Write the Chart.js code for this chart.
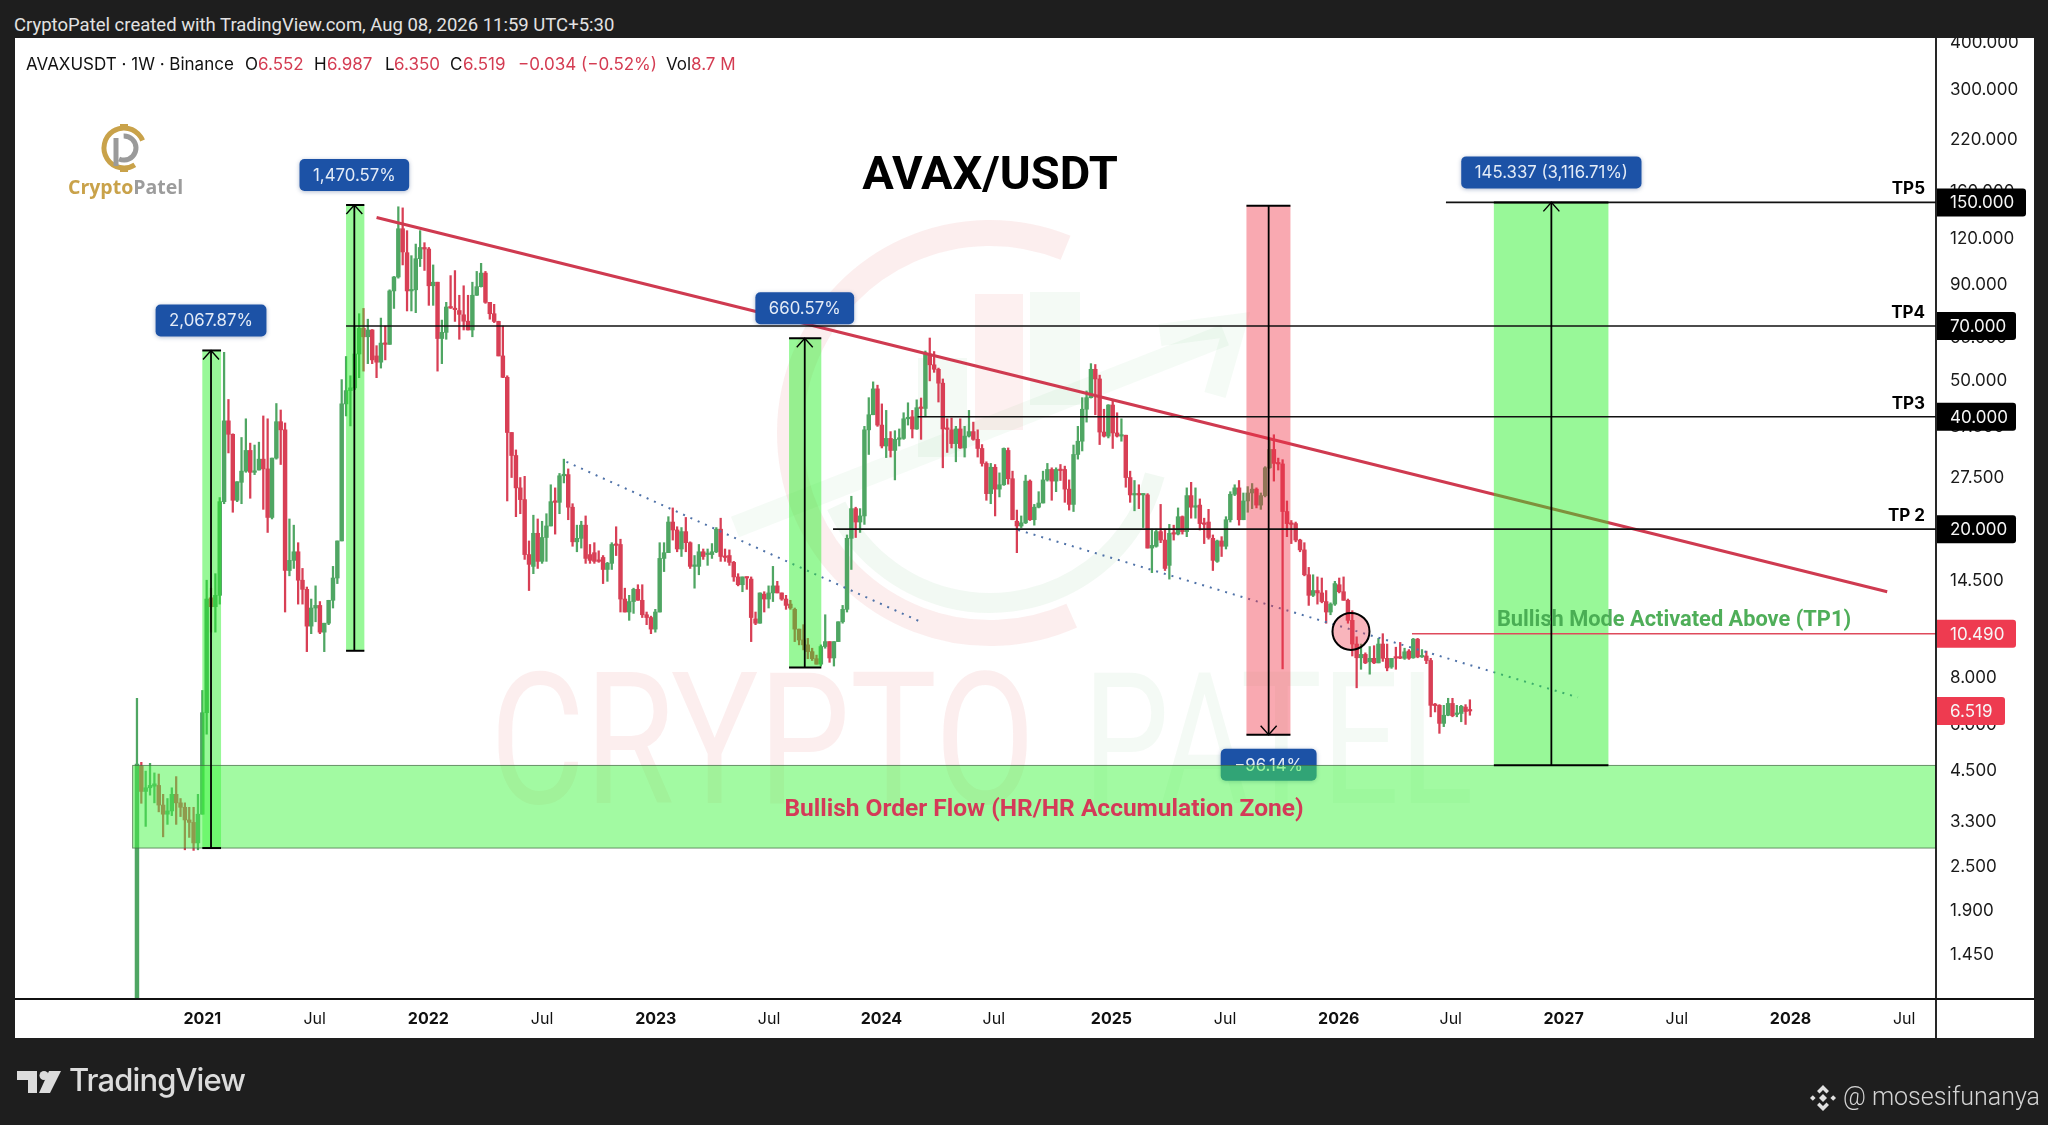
<!DOCTYPE html>
<html>
<head>
<meta charset="utf-8">
<title>AVAX/USDT</title>
<script src="https://cdn.jsdelivr.net/npm/chart.js@4"></script>
<style>
  html, body { margin: 0; padding: 0; background: #1e1e1e; }
  body { width: 2048px; height: 1125px; position: relative; overflow: hidden; }
  #chart { position: absolute; left: 0; top: 0; }
  .top { position: absolute; left: 0; top: 0; width: 2048px; height: 38px; background: #1e1e1e; }
  .created { position: absolute; left: 14px; top: 14px; font: 18.5px Roboto, sans-serif; color: #e2e2e2; white-space: nowrap; }
  .legend span { position: absolute; top: 54px; font: 17px Inter, sans-serif; color: #111; white-space: nowrap; }
  .legend .r { color: #d43c52; }
  .tv { position: absolute; left: 69px; top: 1061px; font: 500 31px Inter, sans-serif; letter-spacing: -0.9px; color: #dcdcdc; }
  .user { position: absolute; left: 1843px; top: 1082px; font: 300 25px Roboto, sans-serif; color: #d4d4d4; white-space: nowrap; }
  svg { position: absolute; }
</style>
</head>
<body>
<canvas id="chart" width="2048" height="1125"></canvas>
<div class="top"></div>
<div class="created">CryptoPatel created with TradingView.com, Aug 08, 2026 11:59 UTC+5:30</div>
<div class="legend">
  <span style="left:26px">AVAXUSDT · 1W · Binance</span>
  <span style="left:245px">O</span><span class="r" style="left:258px">6.552</span>
  <span style="left:314px">H</span><span class="r" style="left:327px">6.987</span>
  <span style="left:385px">L</span><span class="r" style="left:394px">6.350</span>
  <span style="left:450px">C</span><span class="r" style="left:463px">6.519</span>
  <span class="r" style="left:518px">−0.034 (−0.52%)</span>
  <span style="left:666px">Vol</span><span class="r" style="left:691px">8.7 M</span>
</div>
<svg style="left:16px;top:1070px" width="46" height="24" viewBox="0 0 46 24">
  <path fill="#dcdcdc" d="M1 1h20v22h-9V10H1z"/><circle cx="28" cy="5.5" r="4.5" fill="#dcdcdc"/><path fill="#dcdcdc" d="M33 1h12L34 23H23z"/>
</svg>
<div class="tv">TradingView</div>
<svg style="left:1809px;top:1084px" width="28" height="28" viewBox="0 0 28 28">
  <g fill="#e0e0e0"><path d="M14 1l6 6-2.500 2.500L14 6l-3.500 3.500L8 7z"/><path d="M14 27l6-6-2.500-2.500L14 22l-3.500-3.500L8 21z"/><path d="M1 14l2.800-2.800L6.600 14l-2.800 2.800z"/><path d="M21.400 14l2.800-2.800L27 14l-2.800 2.800z"/><path d="M14 10l4 4-4 4-4-4z"/></g>
</svg>
<div class="user">@ mosesifunanya</div>

<script>
//////weekly candles, one value per week from Sep 2020//////
var opens = [
  1.0,4.64,3.97,4.06,4.1,4.12,3.65,3.45,3.52,3.9,
  3.7,3.6,3.33,3.28,2.89,3.45,6.45,13.1,12.4,13.3,
  23.7,39,35.9,23.9,26.7,28.6,32.5,28.4,28.8,30.8,
  29,21.5,31,38.8,36.9,15.5,16.5,17.4,14.6,13.8,
  11,12.3,12.5,10.6,11.2,12.9,14.8,18.6,43.3,47,
  47.8,58.9,69,65.5,68.3,58.2,56,63,62.5,86.9,
  94.7,127.5,110,86.9,87.5,106,113.6,112.5,89.7,91.7,
  64.8,67.3,78.7,78,77,75,72.1,68.3,84.6,89.2,
  97,81,75.5,72,58.2,51,36.3,31.5,25.8,24,
  17.1,15.9,19.5,16.4,19,20.4,23.7,23.6,27.8,28,
  22.9,18.5,18.9,20.5,17.1,17.3,16.5,16.8,15.6,16.2,
  18.2,18.2,13,12,12.8,13.8,12.9,11.8,11.6,10.8,
  12,16.7,17.3,20.9,19.9,17.7,19.7,18.4,15.9,15.9,
  17.4,17.1,17.1,17.4,20,16.9,17,16.3,14.9,14.2,
  14.9,14.7,11.5,11.2,13.4,13,13.5,14.1,13.5,13,
  12.6,12.2,10.8,10.1,9.8,9.4,9,8.7,9.7,10,
  9.04,10,11.3,12.2,18.9,22.7,20.9,21.7,36.9,40.5,
  47.5,38,33.4,35,32.5,34.8,35,39.5,40,37.1,
  42.3,42.1,58.8,55.1,53.6,49.2,37.1,36.9,33.9,37.1,
  33,35.5,36.5,34.8,32.9,30,24.9,29.3,25.6,26.3,
  32.5,27.3,21,20.4,20.8,26.9,21.2,22.9,23.5,27.1,
  28.9,26.9,28.9,28.9,25.6,23.3,31.7,34.4,41.9,45,
  53.6,50.5,36.4,35.5,43,36.2,35.5,35.7,27.5,24.7,
  24.8,24.7,24.7,17.8,18,19.7,18.7,16,19.5,19.4,
  21.6,19.7,24.6,22.9,23.2,20.7,20.9,18.9,16.4,18.6,
  18,21.2,24.8,25.8,21.2,23.8,25,25.6,23.2,24.6,
  29.2,32.7,30,29.9,22.3,20.7,20.7,18.7,17.6,15.1,
  13.3,13.7,13.5,12.8,12,12.6,14.2,13.6,12.9,11.4,
  9.85,9.05,9.24,8.83,9.02,8.77,9.85,9.02,8.55,9.05,
  9.05,9.02,9.43,9.05,10.15,9.1,9.15,8.9,6.75,6.75,
  6.04,6.35,6.83,6.38,6.42,6.68,6.552
];
var highs = [
  7.05,4.75,4.5,4.72,4.45,4.42,3.9,3.8,4.06,4.35,
  3.8,3.7,3.6,3.6,3.9,7.4,14.6,13.9,15.2,24.3,
  59.5,44.5,36,26.8,35.2,39.5,34,33.6,34.2,40.2,
  39.5,31,43.4,41.7,38.5,21.3,20.5,18.4,15.7,14,
  13,14.1,12.8,11.2,12.9,15.9,18.6,50.3,58,51.5,
  70,75.5,78,73,68.5,62,73.5,70,87.5,95,
  146,145,126,108,116,126,117,113.6,102,91.7,
  72.6,81,95.5,98.5,84.6,89.7,84.6,91.7,98,103,
  98,81,80,72.1,70,51.5,36.3,32.6,27.5,27.7,
  18.6,21.8,21.3,21,22,26.3,25.8,28.2,30.8,29,
  23.4,20.5,21,21.7,18.2,18.4,17.5,17,16.3,18.4,
  20.3,18.8,13.9,13.3,13.9,14.2,14.2,12,11.7,12.2,
  18.4,18.4,21.6,22.8,20.3,20.2,21.5,18.5,17,18.2,
  17.7,17.7,18.3,20.2,21.4,17.7,17.6,16.4,15.2,14.9,
  14.9,14.9,12,13.5,13.6,14.1,15.9,14.5,13.5,13.3,
  12.9,12.3,10.8,11.1,10.2,9.6,9.2,9.8,11.8,10,
  10,11.3,12.5,19.3,24.5,22.9,22.7,37.7,45,49.6,
  48.6,43.3,41.6,36.5,36.7,37.1,41,43.6,41.6,44.4,
  44.9,60,65,59.8,54,50.5,39.5,39.7,37.7,39.5,
  37.7,41.6,38.7,36.9,33.7,30.3,30,29.8,28.3,33,
  33,28.6,22.5,21.7,27.9,27.1,23.3,25.2,28.6,30,
  29.2,29.2,29.8,29.5,27.1,33.6,37.7,45,46.9,55.5,
  55.2,51.7,41.9,43.1,44.4,41,39.5,35.7,28.6,27,
  26.3,24.9,24.9,20,20,23.3,20,20.6,20.5,22.8,
  21.7,25.8,26.7,25.8,24.1,21.4,22.6,19.3,18.7,19.1,
  21.6,25.2,26.3,27,25,26,26.5,25.8,25,29.4,
  35,35.8,31,30.7,23.8,21.1,20.9,18.8,18.4,15.8,
  15.1,14.9,14.8,13.7,12.7,14.5,14.8,14.9,13,12.1,
  10.3,9.85,9.33,9.7,9.75,10.2,10.5,9.85,9.02,9.66,
  9.95,9.6,9.52,10.2,10.2,9.52,9.43,9.02,6.83,6.78,
  6.75,7.05,7.05,6.75,6.75,6.78,6.987
];
var lows = [
  1.0,3.69,3.2,3.88,3.7,3.5,3.0,3.24,3.42,3.24,
  3.4,2.77,2.99,2.76,2.77,3.45,5.65,10.6,10.6,12.6,
  23.4,32,22.2,23.7,23.4,28.4,24.2,28,28.8,22.6,
  19.6,21.3,30.8,29.8,12,15,15.7,12.6,12.6,9.4,
  10.5,11.3,10.5,9.4,11.1,12.3,14.3,18.6,40.2,37.8,
  47.3,50.9,53,55.5,55.5,50.9,54,56.8,62.5,78,
  94,102,76.8,76.8,76,101,98.6,79.5,79.5,53,
  55.5,64.5,78,72,64.5,68.3,68.3,65.5,84.5,89,
  80.5,73,71.5,58.2,50.9,23.8,27.5,21.6,22,16.6,
  13.7,15.2,15.7,16.2,16.4,20.4,19.4,22,26.6,21.2,
  18,17.4,17.8,16.2,16.2,16.2,16.3,14.3,14.5,15.6,
  17,12,12,11.4,11.9,12.9,11.6,11.1,10.5,10.6,
  12,15.4,17.3,18.7,17.4,16.9,17.4,15.7,13.9,15.1,
  16.6,16,16.7,17.3,16.4,16.4,16,14.5,14.1,13.6,
  13.8,10,11.1,11.2,12,12.3,12.8,13.5,12.9,12.2,
  12.2,10,9.8,9.5,9,8.9,8.7,8.6,9.6,8.8,
  8.6,10,11.2,12,15.6,19,19.6,20.6,31.7,40.5,
  37.7,33,31.1,31.2,27.1,33.4,34.8,38,35.1,37,
  34.8,40,49.9,52.6,43.8,29.2,32.1,33,30.3,32.9,
  31.2,35.3,34.6,31.2,29.5,23.9,23.4,21.7,24.4,26.2,
  26.4,21.2,17.3,20.2,20.7,21.1,20.5,22.8,23.5,26.9,
  23.9,25.2,27,23.6,22.5,22.3,30.8,32.4,38.7,44.9,
  40.5,33.7,35.3,35.1,32.9,35.3,34.4,25.9,23.6,22.4,
  22.7,20.2,17.8,15.3,17.9,18.4,15.5,14.7,18.7,19.3,
  19.4,19.1,21.4,21.4,19.9,18.3,18.8,15.5,16.3,16.9,
  17.7,20.9,24.6,20.5,21.2,22.2,22.7,22.8,22.6,24.4,
  29.1,26.9,28.8,8.45,19.1,18.3,18.5,17.4,15,12.5,
  13.2,12.6,12.7,11.2,11.8,12.5,13.5,12.9,11.2,9.15,
  7.52,8.43,8.73,8.18,8.73,8.77,8.85,8.35,8.48,8.43,
  9,8.96,8.96,9.02,9.05,9.07,8.73,6.29,6.48,5.68,
  5.92,6.33,6.29,6.29,6.1,6,6.35
];
var closes = [
  4.7,3.97,4.06,4.12,4.16,3.65,3.45,3.52,3.9,3.7,
  3.6,3.33,3.28,2.89,3.45,6.45,13,12.4,13.3,23.7,
  39,35.9,23.9,26.8,28.6,32.5,28.4,28.6,30.8,29,
  21.5,31,38.8,36.9,15.5,16.5,17.4,14.6,13.8,11,
  12.3,12.5,10.6,11.2,12.9,14.8,18.6,43.3,47,47.8,
  58.9,69,65.5,68.3,56.8,56,63,62.5,86.9,94.7,
  127.5,110.5,86.9,87.5,106,113.6,112.5,89.7,91.7,64.8,
  67.3,78.7,78.2,77.4,75.2,72.1,68.3,84.6,89.2,97,
  81,75.5,72,58.2,51,36.3,31.5,25.8,24,17.1,
  16.1,19.5,16.4,19,20.4,23.7,23.6,27.8,28,22.9,
  18.5,18.9,20.5,16.7,16.5,16.4,16.4,15.6,16.2,18.2,
  18.1,13,12,12.8,13.8,12.9,11.8,11.6,10.8,12,
  16.7,17.3,20.9,19.9,17.7,19.7,18.4,15.9,16,17.4,
  16.9,17.1,17.4,20,16.9,16.8,16.3,14.9,14.2,14.9,
  14.8,11.6,11.2,13.5,13,13.5,14.1,13.5,13,12.5,
  12.3,10.8,10.1,9.8,9.4,9,8.7,9.7,10,9.04,
  10,11.3,12.2,18.9,22.7,20.9,21.7,36.9,40.5,47.5,
  38,33.4,35,32.5,34.8,35,39.5,39.7,37.1,42.3,
  42.1,58.8,55.1,53.6,49.2,37.1,37,33.9,37.1,33,
  35.5,36.5,34.8,32.9,30,24.9,29.3,25.6,26.3,32.9,
  27.3,21.2,20.4,20.8,26.9,21.2,22.9,23.5,27.1,28.9,
  26.9,28.9,28.7,25.6,23.3,31.7,34.4,41.9,45,53.6,
  50.5,36.4,35.5,43,36.2,35.5,35.7,27.5,24.7,24.8,
  24.7,24.9,17.8,18.1,19.7,18.7,15.7,19.5,19.4,21.6,
  19.7,24.6,22.9,23,20.7,20.6,19,16.5,18.6,18,
  21.2,24.8,25.8,21.2,23.8,25,25.6,23.2,24.6,29.2,
  32.7,30,29.9,22.3,20.7,20.6,18.7,17.6,15.1,13.3,
  13.7,13.5,12.8,12,12.6,14.3,13.6,12.9,11.4,9.85,
  9.05,9.24,8.77,9.02,8.77,9.85,9.02,8.5,9.02,9.03,
  9.03,9.39,9.02,10.15,9.1,9.12,8.9,6.75,6.74,6.04,
  6.35,6.83,6.33,6.42,6.71,6.5,6.519
];

//////axes//////
var priceTicks = [400,300,220,160,120,90,65,50,37.5,27.5,20,14.5,8,6,4.5,3.3,2.5,1.9,1.45];
var xTickWeeks = [15,40.8,66.9,93,119.1,145.1,170.9,196.7,223.7,249.8,275.9,301.6,327.5,353.5,379.6,405.7];
var xTickLabels = ['2021','Jul','2022','Jul','2023','Jul','2024','Jul','2025','Jul','2026','Jul','2027','Jul','2028','Jul'];

//////drawings: week number and price//////
var measures = [
  {from: 15, to: 19.3, arrow: 17, low: 2.8, high: 60.2, text: '2,067.87%'},
  {from: 48, to: 52.2, arrow: 49.9, low: 9.45, high: 147.6, text: '1,470.57%'},
  {from: 149.7, to: 157.1, arrow: 153.3, low: 8.52, high: 64.9, text: '660.57%'},
  {from: 311.5, to: 337.8, arrow: 324.7, low: 4.663, high: 150, text: '145.337 (3,116.71%)'}
];
var drop = {from: 254.7, to: 264.8, arrow: 259.8, low: 5.63, high: 147, text: '−96.14%'};
var zone = {from: -1, low: 2.8, high: 4.66};
var targets = [
  {name: 'TP5', price: 150, from: 300.5, tag: '150.000'},
  {name: 'TP4', price: 70, from: 48, tag: '70.000'},
  {name: 'TP3', price: 40, from: 179.2, tag: '40.000'},
  {name: 'TP 2', price: 20, from: 159.8, tag: '20.000'}
];
var trigger = {price: 10.49, from: 292.7, tag: '10.490'};
var lastPrice = {price: 6.519, tag: '6.519'};
var trendLine = [[55, 136.7], [401.8, 13.6]];
var dotted = [
  [[98.6, 30.3], [180.1, 11.27]],
  [[202.3, 19.9], [330.8, 7.09]]
];
var breakPoint = [278.7, 10.65];

var UP = '#4fa663';
var DOWN = '#d83f55';

function fitText(ctx, text, x, y, width) {
  var w = ctx.measureText(text).width;
  ctx.save();
  ctx.translate(x, y);
  ctx.scale(width / w, 1);
  ctx.fillText(text, 0, 0);
  ctx.restore();
}

function watermark(ctx) {
  ctx.save();
  ctx.textAlign = 'left';
  ctx.textBaseline = 'alphabetic';
  ctx.font = '400 184px Roboto';
  ctx.fillStyle = 'rgba(225,60,60,0.085)';
  fitText(ctx, 'CRYPTO', 490, 803, 545);
  ctx.fillStyle = 'rgba(60,170,80,0.06)';
  fitText(ctx, 'PATEL', 1083, 803, 390);

  // big logo behind the candles
  ctx.lineCap = 'butt';
  ctx.strokeStyle = 'rgba(225,60,60,0.085)';
  ctx.lineWidth = 26;
  ctx.beginPath(); ctx.arc(990, 433, 200, 1.15, 5.1); ctx.stroke();
  ctx.strokeStyle = 'rgba(60,170,80,0.065)';
  ctx.lineWidth = 20;
  ctx.beginPath(); ctx.arc(990, 433, 170, 0.25, 2.7); ctx.stroke();
  ctx.strokeStyle = 'rgba(60,170,80,0.05)';
  ctx.lineWidth = 22;
  ctx.beginPath(); ctx.moveTo(735, 527); ctx.lineTo(1225, 335); ctx.stroke();
  ctx.beginPath(); ctx.moveTo(1160, 335); ctx.lineTo(1235, 325); ctx.lineTo(1215, 395); ctx.stroke();
  ctx.fillStyle = 'rgba(225,60,60,0.075)';
  ctx.fillRect(975, 294, 48, 136);
  ctx.fillStyle = 'rgba(60,170,80,0.06)';
  ctx.fillRect(1030, 292, 50, 113);
  ctx.fillRect(918, 358, 49, 99);
  ctx.restore();
}

function smallLogo(ctx) {
  ctx.save();
  ctx.lineWidth = 5;
  ctx.strokeStyle = '#c9a24a';
  ctx.beginPath(); ctx.arc(124, 148, 20, 1.0, 5.9); ctx.stroke();
  ctx.lineWidth = 5;
  ctx.strokeStyle = '#9a9a9a';
  ctx.beginPath(); ctx.arc(124, 148, 12, -1.6, 2.0); ctx.stroke();
  ctx.beginPath(); ctx.moveTo(116, 138); ctx.lineTo(116, 166); ctx.stroke();
  ctx.fillStyle = '#c9a24a';
  ctx.fillRect(120, 124, 8, 4);
  ctx.fillRect(120, 168, 8, 4);
  ctx.textBaseline = 'alphabetic';
  ctx.textAlign = 'left';
  ctx.font = '700 19.5px "Open Sans"';
  ctx.fillStyle = '#c9a24a';
  ctx.fillText('Crypto', 68, 194);
  var w = ctx.measureText('Crypto').width;
  ctx.fillStyle = '#9c9c9c';
  ctx.fillText('Patel', 68 + w, 194);
  ctx.restore();
}

function blueLabel(ctx, cx, cy, text) {
  ctx.save();
  ctx.font = '16.8px Inter';
  var w = ctx.measureText(text).width + 27;
  ctx.shadowColor = 'rgba(30,60,120,0.35)';
  ctx.shadowBlur = 4;
  ctx.shadowOffsetY = 1;
  ctx.fillStyle = '#1c52a6';
  ctx.beginPath();
  ctx.roundRect(cx - w / 2, cy - 16, w, 32, 5);
  ctx.fill();
  ctx.shadowColor = 'transparent';
  ctx.fillStyle = '#e4ecf7';
  ctx.textAlign = 'center';
  ctx.textBaseline = 'middle';
  ctx.fillText(text, cx, cy + 1);
  ctx.restore();
}

function arrowLine(ctx, x, yFrom, yTo, dir) {
  ctx.strokeStyle = '#000';
  ctx.lineWidth = 1.8;
  ctx.beginPath(); ctx.moveTo(x, yFrom); ctx.lineTo(x, yTo); ctx.stroke();
  ctx.lineWidth = 1.4;
  ctx.beginPath();
  ctx.moveTo(x - 8, yTo + dir * 9);
  ctx.lineTo(x, yTo);
  ctx.lineTo(x + 8, yTo + dir * 9);
  ctx.stroke();
}

function hLine(ctx, x1, x2, y, width, colour) {
  ctx.strokeStyle = colour;
  ctx.lineWidth = width;
  ctx.beginPath(); ctx.moveTo(x1, y); ctx.lineTo(x2, y); ctx.stroke();
}

function priceTag(ctx, y, right, text, colour) {
  ctx.fillStyle = colour;
  ctx.beginPath();
  ctx.roundRect(1937, y - 14, right - 1937, 28, [0, 3, 3, 0]);
  ctx.fill();
  ctx.fillStyle = '#f6f6f6';
  ctx.font = '17px Inter';
  ctx.textAlign = 'left';
  ctx.textBaseline = 'middle';
  ctx.fillText(text, 1950, y + 1);
}

var drawings = {
  id: 'drawings',
  beforeDraw: function(chart) {
    var ctx = chart.ctx;
    ctx.save();
    ctx.fillStyle = '#ffffff';
    ctx.fillRect(15, 38, 2019, 1000);
    ctx.restore();
  },
  beforeDatasetsDraw: function(chart) {
    var a = chart.chartArea;
    var ctx = chart.ctx;
    ctx.save();
    ctx.beginPath(); ctx.rect(a.left, a.top, a.width, a.height); ctx.clip();
    watermark(ctx);
    ctx.restore();
  },
  afterDatasetsDraw: function(chart) {
    var ctx = chart.ctx;
    var a = chart.chartArea;
    var X = function(v) { return chart.scales.x.getPixelForValue(v); };
    var Y = function(v) { return chart.scales.y.getPixelForValue(v); };
    ctx.save();
    ctx.beginPath(); ctx.rect(a.left, a.top, a.width, a.height); ctx.clip();

    smallLogo(ctx);

    // falling trend line
    ctx.strokeStyle = '#cf3a50';
    ctx.lineWidth = 3;
    ctx.beginPath();
    ctx.moveTo(X(trendLine[0][0]), Y(trendLine[0][1]));
    ctx.lineTo(X(trendLine[1][0]), Y(trendLine[1][1]));
    ctx.stroke();

    // dotted support lines
    ctx.strokeStyle = '#4f72a8';
    ctx.lineWidth = 2;
    ctx.setLineDash([2, 6]);
    dotted.forEach(function(d) {
      ctx.beginPath();
      ctx.moveTo(X(d[0][0]), Y(d[0][1]));
      ctx.lineTo(X(d[1][0]), Y(d[1][1]));
      ctx.stroke();
    });
    ctx.setLineDash([]);

    // circle on the breakdown
    ctx.beginPath();
    ctx.arc(X(breakPoint[0]), Y(breakPoint[1]), 18.5, 0, Math.PI * 2);
    ctx.fillStyle = 'rgba(240,60,80,0.38)';
    ctx.fill();
    ctx.strokeStyle = '#000';
    ctx.lineWidth = 2;
    ctx.stroke();

    // measure labels
    measures.forEach(function(m) {
      blueLabel(ctx, X(m.arrow), Y(m.high) - 30, m.text);
    });
    blueLabel(ctx, X(drop.arrow), Y(drop.low) + 30, drop.text);

    // shaded measures
    ctx.fillStyle = 'rgba(40,240,40,0.48)';
    measures.forEach(function(m) {
      ctx.fillRect(X(m.from), Y(m.high), X(m.to) - X(m.from), Y(m.low) - Y(m.high));
    });
    ctx.fillStyle = 'rgba(240,50,70,0.42)';
    ctx.fillRect(X(drop.from), Y(drop.high), X(drop.to) - X(drop.from), Y(drop.low) - Y(drop.high));

    // accumulation zone
    ctx.fillStyle = 'rgba(70,245,70,0.5)';
    ctx.fillRect(X(zone.from), Y(zone.high), a.right - X(zone.from), Y(zone.low) - Y(zone.high));
    ctx.strokeStyle = 'rgba(70,110,70,0.75)';
    ctx.lineWidth = 1;
    ctx.strokeRect(X(zone.from), Y(zone.high), a.right - X(zone.from), Y(zone.low) - Y(zone.high));

    // target lines
    targets.forEach(function(t) {
      hLine(ctx, X(t.from), a.right, Y(t.price), 1.7, '#111');
      ctx.fillStyle = '#000';
      ctx.font = '700 17px Inter';
      ctx.textAlign = 'right';
      ctx.textBaseline = 'alphabetic';
      ctx.fillText(t.name, 1925, Y(t.price) - 8);
    });
    hLine(ctx, X(trigger.from), a.right, Y(trigger.price), 1.5, '#df4a5c');

    // arrows with end caps
    measures.forEach(function(m) {
      hLine(ctx, X(m.from), X(m.to), Y(m.low), 2, '#000');
      hLine(ctx, X(m.from), X(m.to), Y(m.high), 2, '#000');
      arrowLine(ctx, X(m.arrow), Y(m.low), Y(m.high), 1);
    });
    hLine(ctx, X(drop.from), X(drop.to), Y(drop.low), 2, '#000');
    hLine(ctx, X(drop.from), X(drop.to), Y(drop.high), 2, '#000');
    arrowLine(ctx, X(drop.arrow), Y(drop.high), Y(drop.low), -1);

    // texts
    ctx.textAlign = 'center';
    ctx.textBaseline = 'middle';
    ctx.fillStyle = '#000';
    ctx.font = '700 47px Roboto';
    ctx.fillText('AVAX/USDT', 990, 177);
    ctx.fillStyle = '#d43a58';
    ctx.font = '700 24.5px Roboto';
    ctx.fillText('Bullish Order Flow (HR/HR Accumulation Zone)', 1044, 810);
    ctx.fillStyle = 'rgba(70,170,80,0.95)';
    ctx.font = '700 21.8px Roboto';
    ctx.fillText('Bullish Mode Activated Above (TP1)', 1674, 621);
    ctx.restore();
  },
  afterDraw: function(chart) {
    var ctx = chart.ctx;
    var Y = function(v) { return chart.scales.y.getPixelForValue(v); };
    ctx.save();
    targets.forEach(function(t) {
      priceTag(ctx, Y(t.price), t.tag.length > 6 ? 2026 : 2016, t.tag, '#000');
    });
    priceTag(ctx, Y(trigger.price), 2016, trigger.tag, '#ee3b50');
    priceTag(ctx, Y(lastPrice.price), 2005, lastPrice.tag, '#ee3b50');
    ctx.strokeStyle = '#111';
    ctx.lineWidth = 1.8;
    ctx.beginPath();
    ctx.moveTo(1936, 38); ctx.lineTo(1936, 1038);
    ctx.moveTo(15, 999); ctx.lineTo(2034, 999);
    ctx.stroke();
    ctx.restore();
  }
};

var ctx = document.getElementById('chart').getContext('2d');
var chart = new Chart(ctx, {
    type: 'bar',
    data: {
        datasets: [{
            label: 'wicks',
            data: highs.map(function(h, i) { return {x: i, y: [lows[i], h]}; }),
            backgroundColor: closes.map(function(c, i) { return c >= opens[i] ? UP : DOWN; }),
            barThickness: 1.6,
            minBarLength: 1,
            grouped: false,
            order: 2
        }, {
            label: 'bodies',
            data: closes.map(function(c, i) { return {x: i, y: [opens[i], c]}; }),
            backgroundColor: closes.map(function(c, i) { return c >= opens[i] ? UP : DOWN; }),
            barThickness: 3.8,
            minBarLength: 1.5,
            grouped: false,
            order: 1
        }]
    },
    options: {
        responsive: false,
        animation: false,
        layout: {padding: {left: 15, right: 14, top: 38, bottom: 87}},
        plugins: {legend: {display: false}, tooltip: {enabled: false}},
        scales: {
            x: {
                type: 'linear',
                offset: false,
                min: -28,
                max: 413,
                grid: {display: false, drawTicks: false},
                border: {display: false},
                afterBuildTicks: function(s) { s.ticks = xTickWeeks.map(function(v) { return {value: v}; }); },
                afterFit: function(s) { s.height = 39; },
                ticks: {
                    autoSkip: false,
                    maxRotation: 0,
                    padding: 11,
                    color: '#111',
                    font: function(c) {
                        var label = xTickLabels[c.index];
                        return {family: 'Inter', size: 16, weight: label === 'Jul' ? 400 : 700};
                    },
                    callback: function(v, i) { return xTickLabels[i]; }
                }
            },
            y: {
                type: 'logarithmic',
                position: 'right',
                min: 1.104,
                max: 413.3,
                grid: {display: false, drawTicks: false},
                border: {display: false},
                afterBuildTicks: function(s) { s.ticks = priceTicks.map(function(v) { return {value: v}; }); },
                afterFit: function(s) { s.width = 98; },
                ticks: {
                    autoSkip: false,
                    padding: 14,
                    color: '#1a1a1a',
                    font: {family: 'Inter', size: 17},
                    callback: function(v) { return Number(v).toFixed(3); }
                }
            }
        }
    },
    plugins: [drawings]
});
</script>
</body>
</html>
